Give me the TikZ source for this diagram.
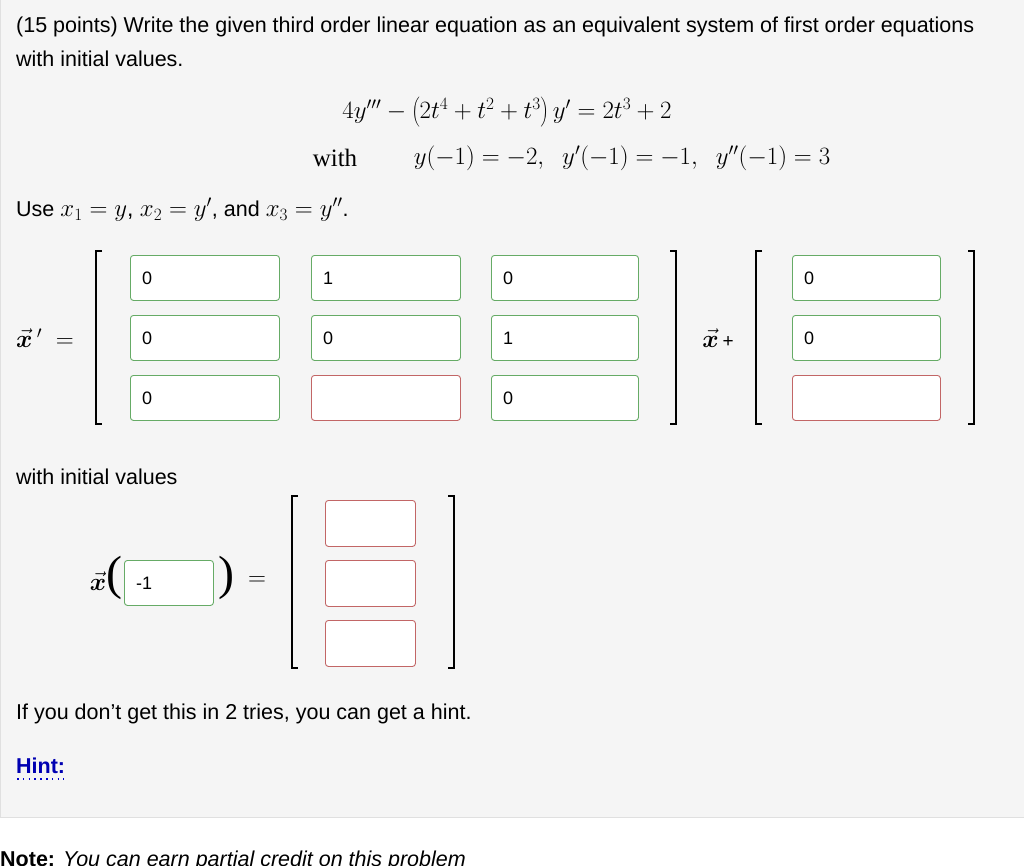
\documentclass[tikz,border=0pt]{standalone}
\usepackage{bm}
\usepackage{fontspec}
\setmainfont{Liberation Sans}
\newfontfamily\serif{Liberation Serif}
\begin{document}
\begin{tikzpicture}[x=1pt,y=-1pt,
  tx/.style={anchor=west,inner sep=0pt,font=\fontsize{21.5}{24}\selectfont},
  gbox/.style={draw=green!45!black!60,fill=white,rounded corners=3pt,line width=0.9pt,minimum width=#1,minimum height=45pt,anchor=north west,inner sep=0pt},
  rbox/.style={draw=red!60!black!60,fill=white,rounded corners=3pt,line width=0.9pt,minimum width=#1,minimum height=45pt,anchor=north west,inner sep=0pt},
  vl/.style={anchor=west,inner sep=0pt,font=\fontsize{18}{20}\selectfont},
  mt/.style={anchor=center,inner sep=0pt,font=\fontsize{25}{28}\selectfont},
  brk/.style={line width=1.3pt}]
\clip (0,0) rectangle (1024,865);
\fill[white] (0,0) rectangle (1024,865);
\filldraw[fill=black!4,draw=black!12] (0,-5) rectangle (1024,817);
\node[tx] (t1) at (16,27) {(15 points) Write the given third order linear equation as an equivalent system of first order equations};
\node[tx] (t2) at (16,59) {with initial values.};
\node[mt] (eq) at (507,112) {$4y''' - \left(2t^4+t^2+t^3\right) y' = 2t^3+2$};
\node[mt] (wi) at (335,158) {\serif with};
\node[mt] (ic) at (622,158) {$y(-1)=-2,\ \ y'(-1)=-1,\ \ y''(-1)=3$};
\node[tx] (use) at (16,210) {Use {\fontsize{23}{24}\selectfont$x_1=y$, $x_2=y'$}, and {\fontsize{23}{24}\selectfont$x_3=y''$}.};
\node[mt,font=\fontsize{23}{26}\selectfont] (xp) at (45,338) {$\vec{\bm{x}}\,'\;=$};
% matrix brackets
\draw[brk] (102,251) -- (96,251) -- (96,424) -- (102,424);
\draw[brk] (670,251) -- (676,251) -- (676,424) -- (670,424);
\draw[brk] (762,251) -- (756,251) -- (756,424) -- (762,424);
\draw[brk] (968,251) -- (974,251) -- (974,424) -- (968,424);
\foreach \c/\x in {1/130,2/311,3/491}{\foreach \r/\y in {1/255,2/315,3/375}{\coordinate (p\c\r) at (\x,\y);}}
\node[gbox=149pt] (a11) at (p11) {}; \node[vl] at ([xshift=12pt]a11.west) {0};
\node[gbox=149pt] (a12) at (p12) {}; \node[vl] at ([xshift=12pt]a12.west) {0};
\node[gbox=149pt] (a13) at (p13) {}; \node[vl] at ([xshift=12pt]a13.west) {0};
\node[gbox=149pt] (a21) at (p21) {}; \node[vl] at ([xshift=12pt]a21.west) {1};
\node[gbox=149pt] (a22) at (p22) {}; \node[vl] at ([xshift=12pt]a22.west) {0};
\node[rbox=149pt] (a23) at (p23) {};
\node[gbox=147pt] (a31) at (p31) {}; \node[vl] at ([xshift=12pt]a31.west) {0};
\node[gbox=147pt] (a32) at (p32) {}; \node[vl] at ([xshift=12pt]a32.west) {1};
\node[gbox=147pt] (a33) at (p33) {}; \node[vl] at ([xshift=12pt]a33.west) {0};
\node[mt,font=\fontsize{23}{26}\selectfont] (xplus) at (718,338) {$\vec{\bm{x}}$\,{\fontsize{19}{20}\selectfont+}};
\node[gbox=148pt] (b1) at (792,255) {}; \node[vl] at ([xshift=12pt]b1.west) {0};
\node[gbox=148pt] (b2) at (792,315) {}; \node[vl] at ([xshift=12pt]b2.west) {0};
\node[rbox=148pt] (b3) at (792,375) {};
\node[tx] (wiv) at (16,477) {with initial values};
% initial value part
\node[mt,font=\fontsize{23}{26}\selectfont] (xv) at (98,581) {$\vec{\bm{x}}$};
\node[mt,font=\fontsize{48}{48}\selectfont] (lp) at (114,578) {\serif (};
\node[gbox=89pt] (tb) at (124,560) {}; \node[vl] at ([xshift=12pt]tb.west) {-1};
\node[mt,font=\fontsize{48}{48}\selectfont] (rp) at (226,578) {\serif )};
\node[mt] (eqs) at (257,581) {$=$};
\draw[brk] (298,496) -- (292,496) -- (292,668) -- (298,668);
\draw[brk] (448,496) -- (454,496) -- (454,668) -- (448,668);
\node[rbox=90pt,minimum height=46pt] (c1) at (325,500) {};
\node[rbox=90pt,minimum height=46pt] (c2) at (325,560) {};
\node[rbox=90pt,minimum height=46pt] (c3) at (325,620) {};
\node[tx] (tries) at (16,714) {If you don't get this in 2 tries, you can get a hint.};
\node[tx,font=\bfseries\fontsize{21.5}{24}\selectfont,text=blue!70!black] (hint) at (16,766) {Hint:};
\coordinate (u1) at (17,779);
\coordinate (u2) at (64,779);
\draw[blue!80!black,line width=1.6pt,dash pattern=on 1.6pt off 4.2pt] (u1) -- (u2);
\node[tx,anchor=north west] (note) at (0,851) {\textbf{Note:} \textit{You can earn partial credit on this problem}};
\end{tikzpicture}
\end{document}
